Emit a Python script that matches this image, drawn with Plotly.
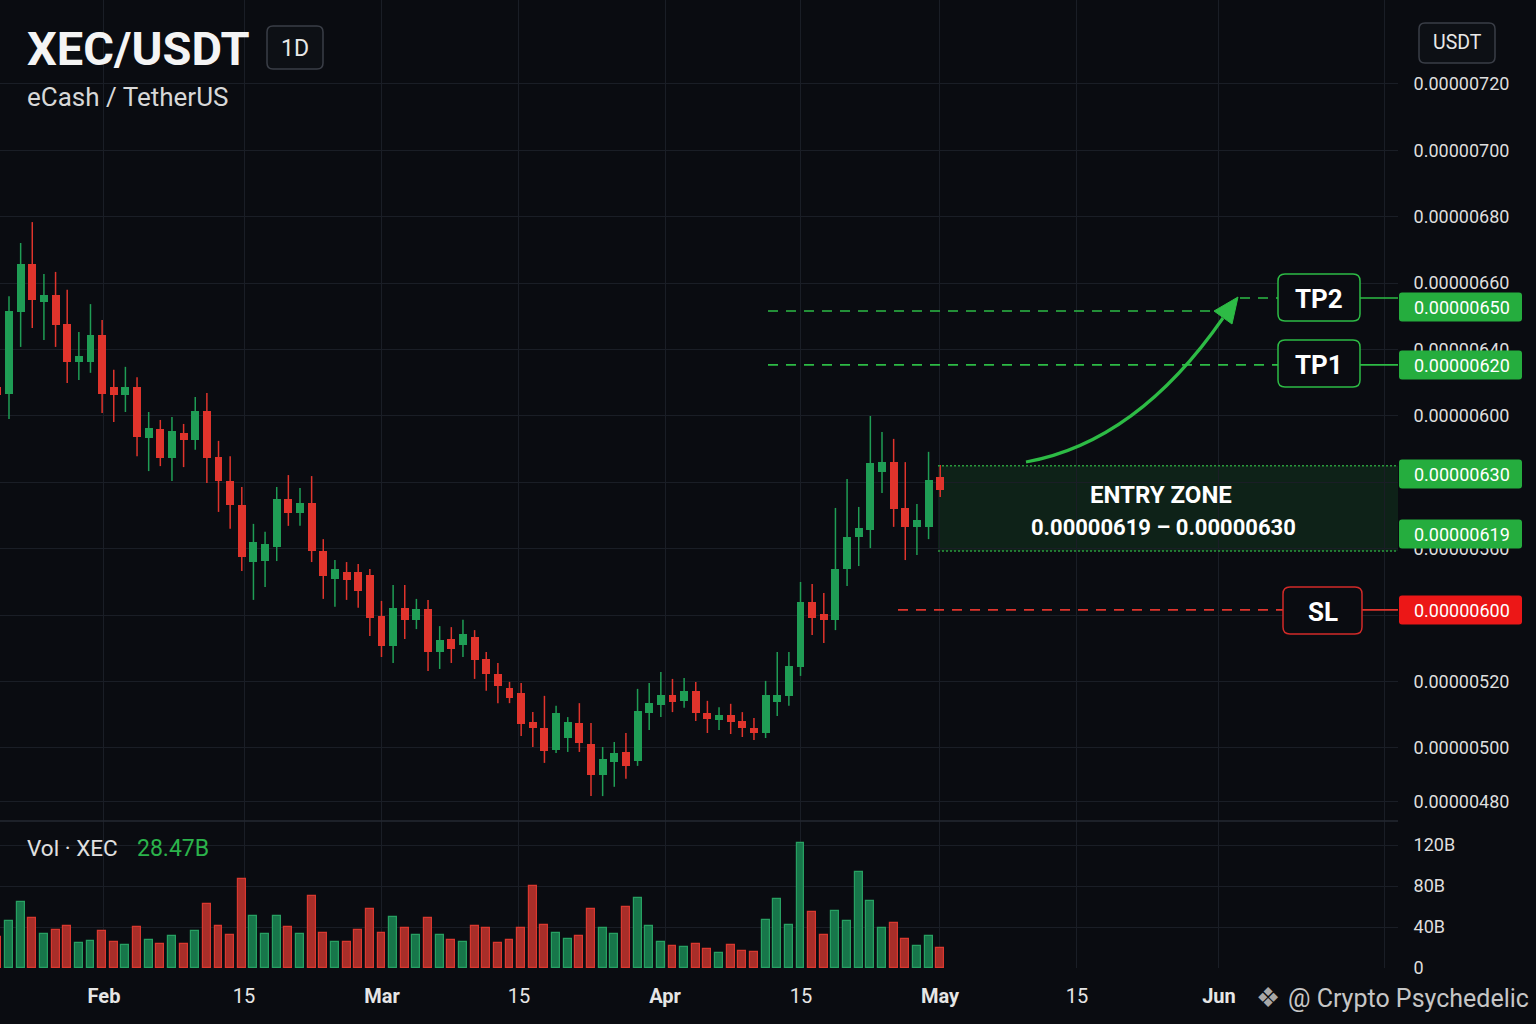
import plotly.graph_objects as go
from plotly.subplots import make_subplots

# ---------------- data (price in axis units of 1e-8 USDT, volume in billions) -------------
opens = [628.7, 626.6, 651.3, 665.8, 654.3, 656.4, 647.7, 636.3, 636.3, 644.4,
         628.7, 626.3, 628.7, 613.4, 616.1, 607.3, 614.9, 612.8, 621.5, 607.6,
         600.4, 593.2, 576.0, 576.3, 580.5, 595.0, 590.8, 593.8, 579.3, 570.9,
         573.0, 573.0, 572.1, 559.8, 550.7, 562.2, 558.6, 561.9, 548.9, 552.8,
         551.0, 553.4, 546.8, 542.3, 538.1, 536.6, 527.8, 526.0, 519.4, 523.0,
         527.5, 521.2, 511.9, 515.8, 518.8, 516.1, 530.5, 533.0, 536.0, 534.2,
         537.2, 530.5, 528.4, 529.9, 528.1, 526.0, 524.5, 533.9, 535.7, 544.4,
         564.0, 560.4, 558.6, 573.9, 583.6, 585.7, 603.1, 606.1, 592.3, 586.6,
         586.6, 601.6]
highs = [631.7, 656.1, 672.1, 678.4, 662.8, 663.4, 658.0, 645.3, 653.7, 648.9,
         633.9, 634.8, 631.7, 621.2, 618.8, 619.7, 617.6, 625.7, 626.9, 612.5,
         607.9, 598.6, 587.5, 585.1, 598.6, 602.2, 598.3, 601.9, 582.9, 576.6,
         576.0, 575.4, 573.9, 564.3, 569.1, 569.1, 564.9, 564.6, 556.7, 556.4,
         558.6, 555.5, 548.9, 545.6, 539.9, 539.6, 530.8, 535.7, 532.7, 529.3,
         533.5, 527.5, 520.3, 521.8, 524.5, 537.8, 539.6, 542.9, 540.8, 541.1,
         539.9, 534.2, 532.3, 533.3, 530.8, 529.0, 540.2, 548.9, 548.9, 570.0,
         569.4, 566.7, 592.3, 601.0, 592.6, 620.0, 615.2, 613.1, 606.1, 593.5,
         609.2, 605.2]
lows = [623.3, 619.1, 640.8, 646.5, 642.9, 640.8, 629.9, 630.8, 633.0, 620.9,
        618.2, 621.2, 607.9, 603.4, 604.9, 600.4, 604.6, 609.8, 599.8, 591.1,
        586.0, 573.3, 564.6, 568.5, 576.3, 586.9, 586.9, 576.0, 564.9, 562.5,
        564.6, 562.2, 553.7, 547.4, 545.6, 552.8, 555.8, 543.2, 543.8, 545.6,
        547.4, 540.8, 537.2, 533.5, 533.5, 523.6, 520.3, 515.5, 518.5, 518.8,
        518.8, 505.5, 505.5, 508.3, 510.7, 514.6, 525.4, 529.3, 530.8, 532.1,
        528.1, 524.5, 525.4, 524.2, 523.3, 522.4, 523.0, 529.6, 532.7, 541.7,
        554.0, 551.6, 555.5, 568.8, 574.8, 580.2, 596.8, 586.6, 576.6, 578.1,
        582.9, 595.6]
closes = [626.3, 651.6, 665.8, 654.9, 656.4, 647.4, 636.3, 638.1, 644.4, 626.6,
          626.3, 628.7, 613.7, 616.4, 607.3, 615.5, 612.8, 621.5, 607.3, 600.4,
          593.2, 577.5, 582.0, 581.4, 595.0, 590.8, 593.8, 579.3, 571.8, 573.9,
          570.6, 567.3, 559.2, 550.7, 562.2, 558.6, 561.9, 548.9, 552.5, 549.8,
          554.3, 546.5, 542.3, 538.7, 535.1, 527.2, 526.0, 519.1, 530.5, 527.8,
          521.5, 511.9, 516.7, 518.5, 514.6, 531.1, 533.5, 536.0, 533.9, 537.2,
          530.5, 528.7, 529.9, 527.8, 526.0, 524.5, 536.0, 536.0, 544.7, 564.0,
          559.2, 558.6, 573.9, 583.6, 586.3, 605.8, 606.1, 592.0, 586.6, 588.7,
          600.7, 597.7]
volumes = [30.3, 45.9, 64.4, 48.8, 33.2, 37.1, 41.0, 24.4, 26.4, 36.1,
           25.4, 22.4, 40.0, 27.3, 23.4, 31.2, 23.4, 36.1, 62.5, 41.0,
           32.2, 86.9, 50.8, 33.2, 50.8, 40.0, 33.2, 70.3, 34.2, 25.4,
           25.4, 37.1, 57.6, 34.2, 49.8, 39.0, 32.2, 48.8, 32.2, 27.3,
           25.4, 41.0, 39.0, 24.4, 27.3, 39.0, 80.0, 42.0, 34.2, 28.3,
           31.2, 57.6, 39.0, 33.2, 59.5, 68.3, 41.0, 25.4, 21.5, 20.5,
           23.4, 18.5, 14.6, 22.4, 16.6, 15.6, 46.8, 67.3, 42.0, 122.0,
           54.7, 32.2, 55.6, 45.9, 93.7, 65.4, 39.0, 43.9, 28.3, 21.5,
           31.2, 19.5]
candle_idx = list(range(len(opens)))

# date ticks (positions in candle units)
date_tick_pos = [9.16, 21.19, 33.04, 44.81, 57.36, 69.04, 80.98, 92.75, 104.95, 119.21]
date_tick_text = ["<b>Feb</b>", "15", "<b>Mar</b>", "15", "<b>Apr</b>", "15",
                  "<b>May</b>", "15", "<b>Jun</b>", ""]

# price axis ticks (axis units) and their printed labels (blank where a level tag hides them)
price_tick_vals = [720, 700, 680, 660, 640, 620, 600, 580, 560, 540, 520, 503.8]
price_tick_text = ["0.00000720", "0.00000700", "0.00000680", "0.00000660", "0.00000640",
                   "0.00000600", "", "0.00000560", "", "0.00000520",
                   "0.00000500", "0.00000480"]
vol_tick_vals = [0, 40, 80, 120]
vol_tick_text = ["0", "40B", "80B", "120B"]

# trade levels (axis units) and labels
tp2_level = 651.6
tp1_level = 635.4
entry_high = 605.0
entry_low = 579.3
sl_level = 561.6
tp2_text = "0.00000650"
tp1_text = "0.00000620"
entry_high_text = "0.00000630"
entry_low_text = "0.00000619"
sl_text = "0.00000600"
last_volume_text = "28.47B"

# ---------------- styling -------------
BG = "#0a0c11"
GRID = "#1a1e26"
UP = "#1f9d55"
DOWN = "#e0342c"
VOL_UP_FILL = "#17764a"
VOL_UP_LINE = "#27a062"
VOL_DN_FILL = "#a82e29"
VOL_DN_LINE = "#d9382f"
LVL_GREEN = "#2dbb45"
BOX_GREEN = "#25ad3e"
BOX_RED = "#ec1717"
FONT = "Roboto, 'Noto Sans', sans-serif"

W, H = 1536, 1024
PW, PH = 1398, 968          # plot area (margins l=0,t=0,r=138,b=56)
SEP = 821                    # pane separator (px from top)


def PX(x):
    return x / PW


def PY(y):
    return 1 - y / PH


def rrect(x0, y0, x1, y1, r):
    pts = [
        f"M {PX(x0 + r)},{PY(y0)}",
        f"L {PX(x1 - r)},{PY(y0)}",
        f"Q {PX(x1)},{PY(y0)} {PX(x1)},{PY(y0 + r)}",
        f"L {PX(x1)},{PY(y1 - r)}",
        f"Q {PX(x1)},{PY(y1)} {PX(x1 - r)},{PY(y1)}",
        f"L {PX(x0 + r)},{PY(y1)}",
        f"Q {PX(x0)},{PY(y1)} {PX(x0)},{PY(y1 - r)}",
        f"L {PX(x0)},{PY(y0 + r)}",
        f"Q {PX(x0)},{PY(y0)} {PX(x0 + r)},{PY(y0)}",
        "Z",
    ]
    return " ".join(pts)


fig = make_subplots(rows=2, cols=1, shared_xaxes=True, vertical_spacing=0,
                    row_heights=[SEP / PH, (PH - SEP) / PH])

# ---------------- candles -------------
up = [c >= o for o, c in zip(opens, closes)]
for is_up, col in [(True, UP), (False, DOWN)]:
    wx, wy = [], []
    for k in candle_idx:
        if up[k] == is_up:
            wx += [k, k, None]
            wy += [lows[k], highs[k], None]
    fig.add_trace(go.Scatter(x=wx, y=wy, mode="lines", line=dict(color=col, width=1.5),
                             hoverinfo="skip", showlegend=False), row=1, col=1)
for is_up, col in [(True, UP), (False, DOWN)]:
    bx, bh, bb = [], [], []
    for k in candle_idx:
        if up[k] == is_up:
            lo = min(opens[k], closes[k])
            hi = max(opens[k], closes[k])
            bx.append(k)
            bb.append(lo)
            bh.append(max(hi - lo, 0.7))
    fig.add_trace(go.Bar(x=bx, y=bh, base=bb, width=0.68, marker=dict(color=col, line=dict(width=0)),
                         hoverinfo="skip", showlegend=False), row=1, col=1)

# ---------------- volume -------------
fig.add_trace(go.Bar(
    x=candle_idx, y=volumes, width=0.68,
    marker=dict(color=[VOL_UP_FILL if u else VOL_DN_FILL for u in up],
                line=dict(color=[VOL_UP_LINE if u else VOL_DN_LINE for u in up], width=1.2)),
    hoverinfo="skip", showlegend=False), row=2, col=1)

# ---------------- axes -------------
xr = [(0 + 2.64) / 11.64, (PW + 2.64) / 11.64]
fig.update_xaxes(range=xr, showgrid=True, gridcolor=GRID, gridwidth=1, zeroline=False,
                 showline=False, tickvals=date_tick_pos, ticktext=date_tick_text,
                 ticks="", fixedrange=True)
fig.update_xaxes(showticklabels=False, row=1, col=1)
fig.update_xaxes(showticklabels=True, ticks="outside", ticklen=10, tickcolor="rgba(0,0,0,0)",
                 tickfont=dict(size=20, color="#e6e6e6", family=FONT), row=2, col=1)

fig.update_yaxes(side="right", range=[498.0, 745.3], tickvals=price_tick_vals,
                 ticktext=price_tick_text, showgrid=True, gridcolor=GRID, zeroline=False,
                 ticks="outside", ticklen=11, tickcolor="rgba(0,0,0,0)",
                 tickfont=dict(size=18, color="#dedede", family=FONT), row=1, col=1)
fig.update_yaxes(side="right", range=[0, (PH - SEP) / 1.025], tickvals=vol_tick_vals,
                 ticktext=vol_tick_text, showgrid=True, gridcolor=GRID, zeroline=False,
                 ticks="outside", ticklen=11, tickcolor="rgba(0,0,0,0)",
                 tickfont=dict(size=18, color="#dedede", family=FONT), row=2, col=1)

shapes = []
annotations = []

# pane separator
shapes.append(dict(type="line", xref="paper", yref="paper", x0=0, x1=1, y0=PY(SEP), y1=PY(SEP),
                   line=dict(color="#242832", width=1.5)))

# entry zone
shapes.append(dict(type="rect", xref="paper", yref="y", x0=PX(938), x1=PX(1398),
                   y0=entry_low, y1=entry_high, fillcolor="rgba(40,150,60,0.16)",
                   line=dict(width=0), layer="below"))
for lv in (entry_high, entry_low):
    shapes.append(dict(type="line", xref="paper", yref="y", x0=PX(938), x1=PX(1398), y0=lv, y1=lv,
                       line=dict(color="#2a9a3c", width=1.5, dash="2px,2px")))

# level lines
DASH = "10px,8px"
shapes.append(dict(type="line", xref="paper", yref="y", x0=PX(768), x1=PX(1218), y0=tp2_level, y1=tp2_level,
                   line=dict(color=LVL_GREEN, width=1.6, dash=DASH)))
shapes.append(dict(type="line", xref="paper", yref="paper", x0=PX(1240), x1=PX(1278), y0=PY(298), y1=PY(298),
                   line=dict(color=LVL_GREEN, width=1.6, dash=DASH)))
shapes.append(dict(type="line", xref="paper", yref="paper", x0=PX(1360), x1=PX(1398), y0=PY(298), y1=PY(298),
                   line=dict(color=LVL_GREEN, width=1.6)))
shapes.append(dict(type="line", xref="paper", yref="y", x0=PX(768), x1=PX(1278), y0=tp1_level, y1=tp1_level,
                   line=dict(color=LVL_GREEN, width=1.6, dash=DASH)))
shapes.append(dict(type="line", xref="paper", yref="y", x0=PX(1360), x1=PX(1398), y0=tp1_level, y1=tp1_level,
                   line=dict(color=LVL_GREEN, width=1.6)))
shapes.append(dict(type="line", xref="paper", yref="y", x0=PX(898), x1=PX(1283), y0=sl_level, y1=sl_level,
                   line=dict(color=DOWN, width=1.6, dash=DASH)))
shapes.append(dict(type="line", xref="paper", yref="y", x0=PX(1362), x1=PX(1398), y0=sl_level, y1=sl_level,
                   line=dict(color=DOWN, width=1.6)))

# curved arrow
p0, p1, p2 = (1026, 462), (1137, 442), (1223, 318)
shapes.append(dict(type="path", xref="paper", yref="paper",
                   path=f"M {PX(p0[0])},{PY(p0[1])} Q {PX(p1[0])},{PY(p1[1])} {PX(p2[0])},{PY(p2[1])}",
                   line=dict(color=LVL_GREEN, width=3.2)))
tip, b1, b2 = (1238, 297), (1232, 324), (1214, 311)
shapes.append(dict(type="path", xref="paper", yref="paper",
                   path=f"M {PX(tip[0])},{PY(tip[1])} L {PX(b1[0])},{PY(b1[1])} L {PX(b2[0])},{PY(b2[1])} Z",
                   fillcolor=LVL_GREEN, line=dict(color=LVL_GREEN, width=1)))


def text(x, y, s, size, color="#ffffff", anchor="center", weight="normal"):
    annotations.append(dict(xref="paper", yref="paper", x=PX(x), y=PY(y), text=s, showarrow=False,
                            xanchor=anchor, yanchor="middle", borderpad=0,
                            font=dict(size=size, color=color, family=FONT, weight=weight)))


# TP / SL boxes
for (x0, y0, x1, y1, col, lab) in [(1278, 274, 1360, 321, LVL_GREEN, "TP2"),
                                   (1278, 340, 1360, 387, LVL_GREEN, "TP1"),
                                   (1283, 587, 1362, 634, "#d22a28", "SL")]:
    shapes.append(dict(type="path", xref="paper", yref="paper", path=rrect(x0, y0, x1, y1, 7),
                       fillcolor=BG, line=dict(color=col, width=1.5), layer="above"))
    text((x0 + x1) / 2, (y0 + y1) / 2 + 1, lab, 26, weight="bold")

# price labels on axis
for (yc, col, lab) in [(307, BOX_GREEN, tp2_text), (365, BOX_GREEN, tp1_text),
                       (474, BOX_GREEN, entry_high_text), (534, BOX_GREEN, entry_low_text),
                       (610, BOX_RED, sl_text)]:
    shapes.append(dict(type="path", xref="paper", yref="paper", path=rrect(1399, yc - 14.5, 1522, yc + 14.5, 3),
                       fillcolor=col, line=dict(width=0), layer="above"))
    text(1462, yc + 0.5, lab, 18, color="#ffffff")

# entry zone text
text(1161, 495, "ENTRY ZONE", 24, weight="bold")
text(1163, 527, f"{entry_low_text} \u2013 {entry_high_text}", 22, weight="bold")

# header
text(26, 48, "XEC/USDT", 47, color="#f4f4f4", anchor="left", weight="bold")
shapes.append(dict(type="path", xref="paper", yref="paper", path=rrect(267, 26, 323, 69, 6),
                   fillcolor="#0d1015", line=dict(color="#3a3e47", width=1.5), layer="above"))
text(295, 48, "1D", 23, color="#e8e8e8")
text(26, 97, "eCash / TetherUS", 26, color="#d8d8d8", anchor="left")

shapes.append(dict(type="path", xref="paper", yref="paper", path=rrect(1419, 23, 1495, 63, 6),
                   fillcolor="#0d1015", line=dict(color="#3a3e47", width=1.5), layer="above"))
text(1457, 43, "USDT", 19.5, color="#e8e8e8")

# volume header
text(26, 848, "Vol \u00b7 XEC", 22.5, color="#e0e0e0", anchor="left")
text(136, 848, last_volume_text, 23, color="#2bb34b", anchor="left")

# watermark
text(1268, 998, "\u2756", 27, color="#a8a8a8")
text(1287, 998, "@ Crypto Psychedelic", 25, color="#c6c6c6", anchor="left")

fig.update_layout(
    width=W, height=H,
    margin=dict(l=0, r=W - PW, t=0, b=H - PH),
    paper_bgcolor=BG, plot_bgcolor=BG,
    barmode="overlay", bargap=0,
    showlegend=False, hovermode=False,
    font=dict(family=FONT, color="#e0e0e0"),
    shapes=shapes, annotations=annotations,
)
fig.update_yaxes(domain=[(PH - SEP) / PH, 1], row=1, col=1)
fig.update_yaxes(domain=[0, (PH - SEP) / PH], row=2, col=1)

fig.write_html(
    "out.html",
    config={"displayModeBar": False},
    post_script="document.body.style.margin='0';document.body.style.padding='0';"
                "document.body.style.overflow='hidden';document.body.style.background='#0a0c11';",
)
